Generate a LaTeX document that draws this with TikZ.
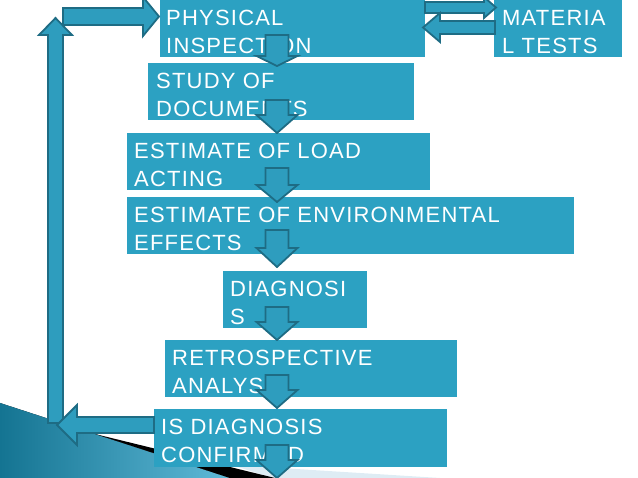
\documentclass[tikz,border=0pt]{standalone}
\usepackage{fontspec}
\setmainfont{Liberation Sans}[LetterSpace=5.5]
\definecolor{boxc}{RGB}{44,161,194}
\definecolor{arrf}{RGB}{46,157,190}
\definecolor{arrd}{RGB}{30,108,132}
\definecolor{tealA}{RGB}{20,116,146}
\definecolor{tealB}{RGB}{96,186,216}
\definecolor{paleb}{RGB}{222,236,244}
\newcommand{\bdown}[4]{% x, shaft top, head base, tip
  \draw[blockarr] (#1-11.5,#2) -- (#1+11.5,#2) -- (#1+11.5,#3) -- (#1+20.5,#3)
    -- (#1,#4) -- (#1-20.5,#3) -- (#1-11.5,#3) -- cycle;}
\begin{document}
\begin{tikzpicture}[x=1pt,y=-1pt,
  box/.style={fill=boxc, draw=none, inner sep=0, anchor=north west},
  lbl/.style={text=white, inner sep=0, anchor=north west, align=left,
    font=\fontsize{22}{28}\selectfont},
  blockarr/.style={fill=arrf, draw=arrd, line width=1.8pt, line join=miter}]
\useasboundingbox (0,0) rectangle (638,478);
% background swoosh
\fill[left color=tealA, right color=tealB] (0,403) -- (230,478) -- (0,478) -- cycle;
\fill[paleb] (232,465) -- (440,478) -- (272,478) -- cycle;
\fill[black] (95,434) -- (275,478) -- (230,478) -- cycle;
% boxes
\node[box, minimum width=265, minimum height=57] (phys) at (160,0) {};
\node[box, minimum width=128, minimum height=57] (mat) at (494,0) {};
\node[box, minimum width=266, minimum height=57] (study) at (148,63) {};
\node[box, minimum width=303, minimum height=57] (load) at (127,133) {};
\node[box, minimum width=447, minimum height=57] (env) at (127,197) {};
\node[box, minimum width=144, minimum height=57] (diag) at (223,271) {};
\node[box, minimum width=292, minimum height=57] (retro) at (165,340) {};
\node[box, minimum width=293, minimum height=58] (conf) at (154,409) {};
% labels
\node[lbl] (physT) at ([xshift=6,yshift=-10]phys.north west) {PHYSICAL\\INSPECTION};
\node[lbl] (matT) at ([xshift=8,yshift=-10]mat.north west) {MATERIA\\L TESTS};
\node[lbl] (studyT) at ([xshift=8,yshift=-10]study.north west) {STUDY OF\\DOCUMENTS};
\node[lbl] (loadT) at ([xshift=7,yshift=-10]load.north west) {ESTIMATE OF LOAD\\ACTING};
\node[lbl] (envT) at ([xshift=7,yshift=-10]env.north west) {ESTIMATE OF ENVIRONMENTAL\\EFFECTS};
\node[lbl] (diagT) at ([xshift=7,yshift=-10]diag.north west) {DIAGNOSI\\S};
\node[lbl] (retroT) at ([xshift=7,yshift=-10]retro.north west) {RETROSPECTIVE\\ANALYSIS};
\node[lbl] (confT) at ([xshift=7,yshift=-10]conf.north west) {IS DIAGNOSIS\\CONFIRMED};
% down block arrows
\bdown{277}{35}{56}{66}
\bdown{277}{100}{115}{133}
\bdown{277}{168}{185}{202}
\bdown{277}{230}{248}{267}
\bdown{277}{307}{322}{340}
\bdown{277}{375}{390}{408}
\bdown{277}{445}{460}{478}
% exchange arrows to material tests
\draw[blockarr] (425,2) -- (484,2) -- (484,-3) -- (496,7.5) -- (484,18) -- (484,13) -- (425,13) -- cycle;
\draw[blockarr] (495,21) -- (440,21) -- (440,13) -- (423,27.5) -- (440,42) -- (440,34) -- (495,34) -- cycle;
% loop back arrows
\draw[blockarr] (48,423) -- (48,35) -- (39,35) -- (55.5,18) -- (72,35) -- (63,35) -- (63,423) -- cycle;
\draw[blockarr] (63,8) -- (143,8) -- (143,-3) -- (159,16.5) -- (143,36) -- (143,25) -- (63,25) -- cycle;
\draw[blockarr] (conf.west |- 0,417) -- (77,417) -- (77,405) -- (57,425) -- (77,445) -- (77,433) -- (conf.west |- 0,433) -- cycle;
\end{tikzpicture}
\end{document}
